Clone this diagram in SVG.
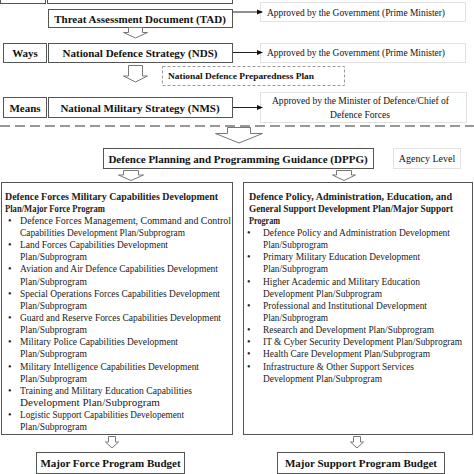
<svg xmlns="http://www.w3.org/2000/svg" width="474" height="474" viewBox="0 0 474 474" font-family="'Liberation Serif', Tinos, 'Times New Roman', 'DejaVu Serif', serif">
<style>
text{font-family:'Liberation Serif', Tinos, 'Times New Roman', 'DejaVu Serif', serif;fill:#111}
.b{font-weight:bold;font-size:11px}
.r{font-size:10px}
.r text{fill:#222}
.hb{font-weight:bold;font-size:10px}
.box{fill:#fff;stroke:#555;stroke-width:1}
.faint{fill:#fff;stroke:#e2e2e2;stroke-width:1}
.dash{fill:#fff;stroke:#999;stroke-width:1;stroke-dasharray:3 2}
.ha{fill:#fff;stroke:#777;stroke-width:1}
.c{stroke:#222;stroke-width:1;fill:none}
</style>
<defs>
<marker id="ah" markerWidth="6" markerHeight="6" refX="5" refY="3" orient="auto" markerUnits="userSpaceOnUse">
<path d="M0,0.5 L6,3 L0,5.5 Z" fill="#111"/>
</marker>
</defs>
<rect width="474" height="474" fill="#fff"/>

<g id="top-left">
<rect class="box" x="0.5" y="-20" width="45" height="23.5"/>
</g>
<g id="top-main">
<rect class="box" x="47.5" y="-20" width="185" height="23.5"/>
</g>

<g id="tad">
<rect class="box" x="48.5" y="9.5" width="184" height="18"/>
<text class="b" x="140" y="22.5" text-anchor="middle">Threat Assessment Document (TAD)</text>
</g>
<g id="approved1">
<rect class="faint" x="260.5" y="2.5" width="205" height="19"/>
<text class="r" x="267" y="15.5" textLength="178" lengthAdjust="spacingAndGlyphs">Approved by the Government (Prime Minister)</text>
</g>

<g id="ways">
<rect class="box" x="3.5" y="43.5" width="43" height="19"/>
<text class="b" x="25" y="57" text-anchor="middle">Ways</text>
</g>
<g id="nds">
<rect class="box" x="48.5" y="43.5" width="184" height="19"/>
<text class="b" x="140" y="57" text-anchor="middle">National Defence Strategy (NDS)</text>
</g>
<g id="approved2">
<rect class="faint" x="260.5" y="43.5" width="205" height="19"/>
<text class="r" x="267" y="56" textLength="178" lengthAdjust="spacingAndGlyphs">Approved by the Government (Prime Minister)</text>
</g>

<g id="ndpp">
<rect class="dash" x="162.5" y="66.5" width="182" height="19"/>
<text class="hb" x="168" y="79" style="font-size:9.2px" textLength="146" lengthAdjust="spacingAndGlyphs">National Defence Preparedness Plan</text>
</g>

<g id="means">
<rect class="box" x="3.5" y="97.5" width="43" height="20"/>
<text class="b" x="25" y="111.5" text-anchor="middle">Means</text>
</g>
<g id="nms">
<rect class="box" x="48.5" y="97.5" width="184" height="20"/>
<text class="b" x="140" y="111.5" text-anchor="middle">National Military Strategy (NMS)</text>
</g>
<g id="approved3">
<rect class="faint" x="260.5" y="92.5" width="206" height="30"/>
<text class="r" x="272" y="103.5" textLength="177" lengthAdjust="spacingAndGlyphs">Approved by the Minister of Defence/Chief of</text>
<text class="r" x="330" y="117.5" textLength="60" lengthAdjust="spacingAndGlyphs">Defence Forces</text>
</g>

<line x1="0" y1="126" x2="474" y2="126" stroke="#333" stroke-width="1.2" stroke-dasharray="10 5"/>

<g id="dppg">
<rect class="box" x="103.5" y="148.5" width="270" height="20"/>
<text class="b" x="238" y="162.5" text-anchor="middle">Defence Planning and Programming Guidance (DPPG)</text>
</g>
<g id="agency">
<rect class="faint" x="393.5" y="148.5" width="67" height="20"/>
<text class="r" x="427" y="162" text-anchor="middle">Agency Level</text>
</g>

<g id="force-plan">
<rect class="box" x="1.5" y="182.5" width="231" height="252"/>
<g class="r">
<text class="hb" x="5" y="199.5" textLength="213" lengthAdjust="spacingAndGlyphs">Defence Forces Military Capabilities Development</text>
<text class="hb" x="5" y="211.6" textLength="100" lengthAdjust="spacingAndGlyphs">Plan/Major Force Program</text>
<text x="8" y="223.8">•</text><text x="20" y="223.8" textLength="211" lengthAdjust="spacingAndGlyphs">Defence Forces Management, Command and Control</text>
<text x="20" y="235.9" textLength="165" lengthAdjust="spacingAndGlyphs">Capabilities Development Plan/Subprogram</text>
<text x="8" y="248.1">•</text><text x="20" y="248.1" textLength="148" lengthAdjust="spacingAndGlyphs">Land Forces Capabilities Development</text>
<text x="20" y="260.2" textLength="67" lengthAdjust="spacingAndGlyphs">Plan/Subprogram</text>
<text x="8" y="272.4">•</text><text x="20" y="272.4" textLength="198" lengthAdjust="spacingAndGlyphs">Aviation and Air Defence Capabilities Development</text>
<text x="20" y="284.5" textLength="67" lengthAdjust="spacingAndGlyphs">Plan/Subprogram</text>
<text x="8" y="296.7">•</text><text x="20" y="296.7" textLength="200" lengthAdjust="spacingAndGlyphs">Special Operations Forces Capabilities Development</text>
<text x="20" y="308.8" textLength="67" lengthAdjust="spacingAndGlyphs">Plan/Subprogram</text>
<text x="8" y="321">•</text><text x="20" y="321" textLength="201" lengthAdjust="spacingAndGlyphs">Guard and Reserve Forces Capabilities Development</text>
<text x="20" y="333.1" textLength="67" lengthAdjust="spacingAndGlyphs">Plan/Subprogram</text>
<text x="8" y="345.3">•</text><text x="20" y="345.3" textLength="158" lengthAdjust="spacingAndGlyphs">Military Police Capabilities Development</text>
<text x="20" y="357.4" textLength="67" lengthAdjust="spacingAndGlyphs">Plan/Subprogram</text>
<text x="8" y="369.6">•</text><text x="20" y="369.6" textLength="179" lengthAdjust="spacingAndGlyphs">Military Intelligence Capabilities Development</text>
<text x="20" y="381.7" textLength="67" lengthAdjust="spacingAndGlyphs">Plan/Subprogram</text>
<text x="8" y="393.9">•</text><text x="20" y="393.9" textLength="172" lengthAdjust="spacingAndGlyphs">Training and Military Education Capabilities</text>
<text x="20" y="406" textLength="140" lengthAdjust="spacingAndGlyphs">Development Plan/Subprogram</text>
<text x="8" y="418.2">•</text><text x="20" y="418.2" textLength="164" lengthAdjust="spacingAndGlyphs">Logistic Support Capabilities Developement</text>
<text x="20" y="430.3" textLength="67" lengthAdjust="spacingAndGlyphs">Plan/Subprogram</text>
</g>
</g>

<g id="support-plan">
<rect class="box" x="243.5" y="182.5" width="229" height="252"/>
<g class="r">
<text class="hb" x="249" y="199.5" textLength="203" lengthAdjust="spacingAndGlyphs">Defence Policy, Administration, Education, and</text>
<text class="hb" x="249" y="211.6" textLength="204" lengthAdjust="spacingAndGlyphs">General Support Development Plan/Major Support</text>
<text class="hb" x="249" y="223.8" textLength="31" lengthAdjust="spacingAndGlyphs">Program</text>
<text x="247" y="235.9">•</text><text x="263" y="235.9" textLength="187" lengthAdjust="spacingAndGlyphs">Defence Policy and Administration Development</text>
<text x="263" y="248.1" textLength="65" lengthAdjust="spacingAndGlyphs">Plan/Subprogram</text>
<text x="247" y="260.2">•</text><text x="263" y="260.2" textLength="157" lengthAdjust="spacingAndGlyphs">Primary Military Education Development</text>
<text x="263" y="272.4" textLength="65" lengthAdjust="spacingAndGlyphs">Plan/Subprogram</text>
<text x="247" y="284.5">•</text><text x="263" y="284.5" textLength="157" lengthAdjust="spacingAndGlyphs">Higher Academic and Military Education</text>
<text x="263" y="296.7" textLength="119" lengthAdjust="spacingAndGlyphs">Development Plan/Subprogram</text>
<text x="247" y="308.8">•</text><text x="263" y="308.8" textLength="164" lengthAdjust="spacingAndGlyphs">Professional and Institutional Development</text>
<text x="263" y="321" textLength="65" lengthAdjust="spacingAndGlyphs">Plan/Subprogram</text>
<text x="247" y="333.1">•</text><text x="263" y="333.1" textLength="171" lengthAdjust="spacingAndGlyphs">Research and Development Plan/Subprogram</text>
<text x="247" y="345.3">•</text><text x="263" y="345.3" textLength="199" lengthAdjust="spacingAndGlyphs">IT &amp; Cyber Security Development Plan/Subprogram</text>
<text x="247" y="357.4">•</text><text x="263" y="357.4" textLength="167" lengthAdjust="spacingAndGlyphs">Health Care Development Plan/Subprogram</text>
<text x="247" y="369.6">•</text><text x="263" y="369.6" textLength="151" lengthAdjust="spacingAndGlyphs">Infrastructure &amp; Other Support Services</text>
<text x="263" y="381.7" textLength="119" lengthAdjust="spacingAndGlyphs">Development Plan/Subprogram</text>
</g>
</g>

<g id="force-budget">
<rect class="box" x="36.5" y="452.5" width="148" height="21"/>
<text class="b" x="110.5" y="467" text-anchor="middle">Major Force Program Budget</text>
</g>
<g id="support-budget">
<rect class="box" x="277.5" y="452.5" width="167" height="21"/>
<text class="b" x="361" y="467" text-anchor="middle">Major Support Program Budget</text>
</g>

<g id="connectors">
<line class="c" x1="233" y1="12" x2="262" y2="12" marker-end="url(#ah)"/>
<line class="c" x1="233" y1="52.5" x2="262" y2="52.5" marker-end="url(#ah)"/>
<line class="c" x1="233" y1="107.5" x2="262" y2="107.5" marker-end="url(#ah)"/>
<path class="ha" d="M128.5,27.5 H142.5 V32.5 H147.5 L135.5,38 L123.5,32.5 H128.5 Z"/>
<path class="ha" d="M128.5,65.5 H142.5 V76 H147.5 L135.5,82 L123.5,76 H128.5 Z"/>
<path class="ha" d="M227.5,127.5 H250.5 V133.5 H262.5 L239,143 L215.5,133.5 H227.5 Z"/>
<path class="ha" d="M123.5,170.5 H138.5 V175 H143.5 L131,180.5 L118.5,175 H123.5 Z"/>
<path class="ha" d="M336.5,170.5 H351.5 V175 H355.5 L344,180.5 L332.5,175 H336.5 Z"/>
<path class="ha" d="M108.5,436.5 H115.5 V442 H118.5 L112,448 L105.5,442 H108.5 Z"/>
<path class="ha" d="M353.5,436.5 H360.5 V442 H363.5 L357,448 L350.5,442 H353.5 Z"/>
</g>
</svg>
